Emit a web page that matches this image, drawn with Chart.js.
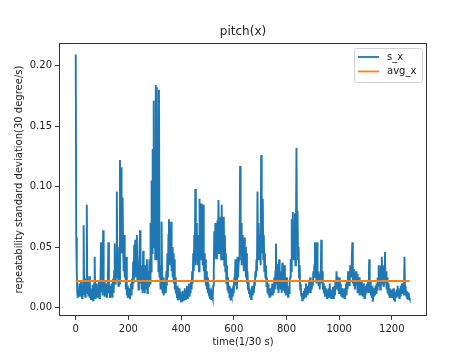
<!DOCTYPE html>
<html>
<head>
<meta charset="utf-8">
<script src="https://cdn.jsdelivr.net/npm/chart.js@4/dist/chart.umd.min.js"></script>
<style>
html,body{margin:0;padding:0;background:#fff;}
#wrap{width:474px;height:355px;}
</style>
</head>
<body>
<div id="wrap"><canvas id="c" width="474" height="355"></canvas></div>
<script>
// sample spacing of the recorded series (time units of 1/30 s)
const sampleStep = 2;
// s_x values (one per sampleStep, 20 time units per row)
const sX = [
0.209,0.058,0.030,0.012,0.008,0.016,0.010,0.020,0.009,0.015,
0.012,0.022,0.008,0.018,0.011,0.068,0.014,0.020,0.009,0.024,
0.016,0.085,0.012,0.022,0.010,0.018,0.026,0.008,0.016,0.007,
0.015,0.010,0.019,0.006,0.013,0.020,0.042,0.008,0.016,0.010,
0.020,0.009,0.017,0.012,0.022,0.008,0.015,0.024,0.054,0.013,
0.018,0.010,0.064,0.016,0.022,0.009,0.017,0.011,0.020,0.008,
0.015,0.022,0.054,0.012,0.018,0.008,0.014,0.010,0.020,0.009,
0.016,0.024,0.012,0.030,0.053,0.020,0.040,0.025,0.096,0.030,
0.050,0.018,0.035,0.020,0.122,0.060,0.116,0.045,0.070,0.091,
0.050,0.030,0.060,0.025,0.040,0.015,0.042,0.010,0.018,0.008,
0.014,0.009,0.016,0.007,0.012,0.020,0.010,0.024,0.015,0.038,
0.020,0.052,0.030,0.056,0.025,0.040,0.060,0.022,0.038,0.015,
0.030,0.048,0.064,0.020,0.035,0.015,0.028,0.012,0.047,0.018,
0.025,0.012,0.035,0.015,0.022,0.040,0.012,0.030,0.018,0.025,
0.040,0.020,0.070,0.030,0.105,0.045,0.131,0.060,0.171,0.050,
0.090,0.040,0.184,0.070,0.182,0.040,0.120,0.030,0.180,0.025,
0.035,0.015,0.030,0.071,0.020,0.012,0.025,0.010,0.020,0.014,
0.022,0.012,0.030,0.018,0.045,0.025,0.060,0.073,0.035,0.060,
0.040,0.071,0.030,0.050,0.025,0.045,0.020,0.040,0.015,0.025,
0.012,0.018,0.008,0.014,0.006,0.012,0.009,0.016,0.007,0.013,
0.005,0.011,0.008,0.014,0.006,0.012,0.009,0.016,0.007,0.014,
0.010,0.018,0.008,0.015,0.012,0.020,0.009,0.016,0.012,0.022,
0.015,0.030,0.020,0.045,0.030,0.060,0.040,0.098,0.035,0.070,
0.045,0.060,0.035,0.050,0.030,0.090,0.040,0.065,0.086,0.040,
0.060,0.035,0.085,0.030,0.045,0.022,0.040,0.018,0.030,0.015,
0.025,0.012,0.020,0.010,0.016,0.008,0.014,0.007,0.012,0.010,
0.008,0.018,0.030,0.063,0.040,0.070,0.045,0.060,0.040,0.072,
0.050,0.089,0.045,0.070,0.050,0.075,0.040,0.085,0.050,0.065,
0.040,0.075,0.035,0.060,0.030,0.045,0.020,0.035,0.015,0.025,
0.012,0.018,0.008,0.014,0.006,0.012,0.010,0.016,0.009,0.018,
0.012,0.025,0.018,0.040,0.020,0.030,0.015,0.042,0.025,0.035,
0.040,0.050,0.117,0.045,0.070,0.035,0.060,0.040,0.055,0.030,
0.058,0.035,0.050,0.025,0.045,0.020,0.030,0.015,0.022,0.012,
0.016,0.009,0.014,0.007,0.012,0.018,0.010,0.016,0.012,0.022,
0.018,0.030,0.025,0.040,0.030,0.096,0.040,0.070,0.045,0.060,
0.050,0.035,0.126,0.045,0.070,0.090,0.040,0.060,0.030,0.045,
0.025,0.035,0.018,0.025,0.012,0.020,0.010,0.016,0.008,0.014,
0.009,0.016,0.012,0.020,0.010,0.018,0.012,0.025,0.015,0.030,
0.053,0.020,0.036,0.015,0.025,0.012,0.040,0.018,0.028,0.015,
0.030,0.012,0.037,0.018,0.025,0.014,0.035,0.012,0.022,0.010,
0.025,0.012,0.018,0.009,0.015,0.012,0.020,0.025,0.040,0.030,
0.073,0.040,0.079,0.045,0.060,0.040,0.078,0.035,0.060,0.132,
0.060,0.080,0.040,0.050,0.025,0.035,0.015,0.020,0.010,0.012,
0.006,0.012,0.008,0.014,0.010,0.016,0.009,0.020,0.012,0.018,
0.010,0.016,0.012,0.022,0.015,0.025,0.012,0.020,0.015,0.022,
0.018,0.030,0.025,0.035,0.054,0.025,0.040,0.020,0.054,0.025,
0.030,0.018,0.028,0.015,0.025,0.020,0.056,0.025,0.030,0.015,
0.020,0.012,0.018,0.009,0.016,0.011,0.015,0.008,0.014,0.010,
0.016,0.009,0.020,0.011,0.015,0.008,0.013,0.010,0.017,0.008,
0.012,0.018,0.010,0.022,0.015,0.030,0.018,0.026,0.015,0.024,
0.012,0.025,0.015,0.020,0.010,0.015,0.009,0.016,0.010,0.014,
0.008,0.016,0.012,0.020,0.010,0.022,0.015,0.030,0.020,0.026,
0.018,0.035,0.025,0.030,0.040,0.054,0.020,0.032,0.018,0.028,
0.015,0.025,0.030,0.018,0.028,0.012,0.022,0.015,0.025,0.010,
0.018,0.012,0.022,0.010,0.016,0.009,0.020,0.013,0.008,0.015,
0.010,0.018,0.012,0.020,0.015,0.022,0.012,0.040,0.015,0.022,
0.010,0.018,0.008,0.014,0.005,0.012,0.009,0.016,0.010,0.018,
0.012,0.020,0.015,0.025,0.018,0.035,0.020,0.030,0.015,0.035,
0.025,0.042,0.020,0.030,0.018,0.035,0.022,0.046,0.020,0.030,
0.015,0.025,0.012,0.020,0.010,0.016,0.008,0.014,0.010,0.015,
0.008,0.014,0.010,0.016,0.006,0.012,0.005,0.013,0.009,0.015,
0.010,0.018,0.012,0.016,0.008,0.014,0.010,0.018,0.012,0.020,
0.015,0.012,0.020,0.010,0.042,0.015,0.018,0.010,0.014,0.008,
0.013,0.007,0.012,0.008,0.007
];
// avg_x constant level and its time span
const avgX = 0.022;
const avgSpan = [0, 1268];
// tick labels
const xTicks = [0, 200, 400, 600, 800, 1000, 1200];
const yTicks = [0.00, 0.05, 0.10, 0.15, 0.20];
const seriesNames = ['s_x', 'avg_x'];
const titleText = 'pitch(x)';
const xLabel = 'time(1/30 s)';
const yLabel = 'repeatability standard deviation(30 degree/s)';

const blue = '#1f77b4', orange = '#ff7f0e';
const FONT = '"DejaVu Sans", sans-serif';

const sData = sX.map((v, i) => ({x: i * sampleStep, y: v}));
const aData = avgSpan.map(t => ({x: t, y: avgX}));

const decor = {
  id: 'decor',
  afterDraw(chart) {
    const ctx = chart.ctx, a = chart.chartArea;
    ctx.save();
    // frame
    ctx.strokeStyle = '#333';
    ctx.lineWidth = 1;
    ctx.strokeRect(Math.round(a.left) + 0.5, Math.round(a.top) + 0.5,
      Math.round(a.right - a.left) - 1, Math.round(a.bottom - a.top) - 1);
    // title
    ctx.fillStyle = '#222';
    ctx.font = '12px ' + FONT;
    ctx.textAlign = 'center';
    ctx.textBaseline = 'middle';
    ctx.fillText(titleText, (a.left + a.right) / 2, 32);
    // axis titles
    ctx.font = '10px ' + FONT;
    ctx.fillText(xLabel, (a.left + a.right) / 2, 342);
    ctx.save();
    ctx.translate(19, (a.top + a.bottom) / 2);
    ctx.rotate(-Math.PI / 2);
    ctx.fillText(yLabel, 0, 0);
    ctx.restore();
    // legend
    const lx = 354, ly = 48, lw = 68, lh = 34;
    ctx.fillStyle = 'rgba(255,255,255,0.8)';
    ctx.strokeStyle = '#d0d0d0';
    ctx.lineWidth = 1;
    ctx.beginPath();
    ctx.roundRect ? ctx.roundRect(lx + 0.5, ly + 0.5, lw, lh, 2) : ctx.rect(lx + 0.5, ly + 0.5, lw, lh);
    ctx.fill();
    ctx.stroke();
    const rows = [[seriesNames[0], blue, 57], [seriesNames[1], orange, 71.5]];
    ctx.textAlign = 'left';
    ctx.font = '10px ' + FONT;
    for (const [name, col, y] of rows) {
      ctx.strokeStyle = col;
      ctx.lineWidth = 1.8;
      ctx.beginPath();
      ctx.moveTo(358, y);
      ctx.lineTo(379, y);
      ctx.stroke();
      ctx.fillStyle = '#222';
      ctx.fillText(name, 387, y);
    }
    ctx.restore();
  }
};

new Chart(document.getElementById('c'), {
  type: 'line',
  data: {
    datasets: [
      {label: seriesNames[0], data: sData, borderColor: blue, borderWidth: 1.9,
       pointRadius: 0, tension: 0, fill: false, order: 1},
      {label: seriesNames[1], data: aData, borderColor: orange, borderWidth: 2,
       pointRadius: 0, tension: 0, fill: false, order: 0}
    ]
  },
  options: {
    responsive: false,
    animation: false,
    devicePixelRatio: 1,
    layout: {padding: {top: 43, right: 47, left: 0, bottom: 0}},
    plugins: {legend: {display: false}, title: {display: false}, tooltip: {enabled: false}},
    scales: {
      x: {
        type: 'linear', min: -63.5, max: 1333.5,
        afterFit(s) { s.height = 39; },
        afterBuildTicks(s) { s.ticks = xTicks.map(v => ({value: v})); },
        grid: {display: true, drawOnChartArea: false, drawTicks: true, tickLength: 4, color: '#333'},
        border: {display: false},
        ticks: {font: {family: FONT, size: 10}, color: '#222', padding: 3, maxRotation: 0,
          callback: v => String(v)}
      },
      y: {
        type: 'linear', min: -0.0069, max: 0.2186,
        afterFit(s) { s.width = 59; },
        afterBuildTicks(s) { s.ticks = yTicks.map(v => ({value: v})); },
        grid: {display: true, drawOnChartArea: false, drawTicks: true, tickLength: 4, color: '#333'},
        border: {display: false},
        ticks: {font: {family: FONT, size: 10}, color: '#222', padding: 3,
          callback: v => Number(v).toFixed(2)}
      }
    }
  },
  plugins: [decor]
});
</script>
</body>
</html>
